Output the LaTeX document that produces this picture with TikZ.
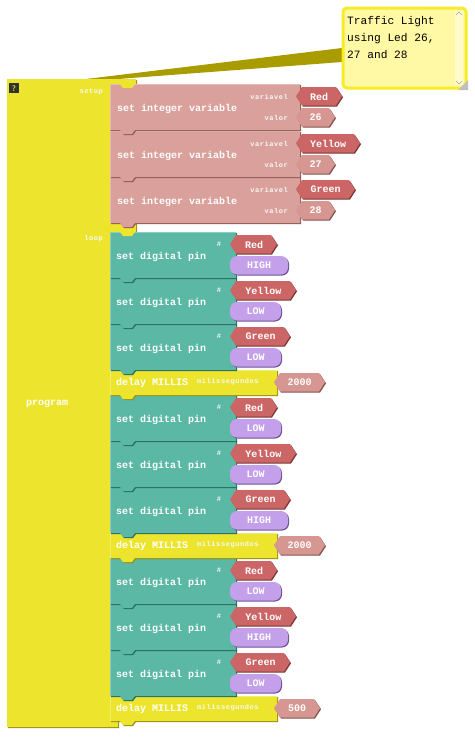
\documentclass[tikz,border=0pt]{standalone}
\usepackage{fontspec}
\newfontfamily\blk{Liberation Mono}[LetterSpace=0]
\newfontfamily\lab{Liberation Mono}[LetterSpace=8]
\newfontfamily\cmt{Liberation Mono}
\definecolor{progY}{RGB}{237,229,45}
\definecolor{progYd}{RGB}{150,140,20}
\definecolor{pinkS}{RGB}{218,160,155}
\definecolor{pinkSd}{RGB}{140,90,85}
\definecolor{varR}{RGB}{204,102,102}
\definecolor{varRd}{RGB}{120,50,50}
\definecolor{numP}{RGB}{214,150,145}
\definecolor{numPd}{RGB}{130,80,75}
\definecolor{tealB}{RGB}{90,184,164}
\definecolor{tealBd}{RGB}{40,105,92}
\definecolor{purp}{RGB}{196,160,234}
\definecolor{purpd}{RGB}{110,80,150}
\definecolor{tailC}{RGB}{168,156,0}
\definecolor{cmtB}{RGB}{246,236,40}
\definecolor{cmtF}{RGB}{255,249,165}
\definecolor{lblC}{RGB}{248,248,248}
\newcommand{\stmtpath}[4]{(#1,#2) -- (#3,#2) -- (#3,#4) -- ({#1+25},#4) -- ({#1+22},{#4+4}) -- ({#1+13},{#4+4}) -- ({#1+10},#4) -- (#1,#4) -- cycle}
\newcommand{\stmt}[6]{%
  \fill[#6,shift={(1,1)}] \stmtpath{#1}{#2}{#3}{#4};
  \fill[#5] \stmtpath{#1}{#2}{#3}{#4};
  \draw[white,opacity=.3,line width=1] (#1+.5,#4) -- (#1+.5,#2+.5) -- (#3,#2+.5);}
\newcommand{\hexpath}[4]{(#1,{(#2+#4)/2}) -- ({#1+6},#2) -- ({#3-6},#2) -- (#3,{(#2+#4)/2}) -- ({#3-6},#4) -- ({#1+6},#4) -- cycle}
\newcommand{\hexv}[6]{%
  \fill[#6,shift={(1,1)}] \hexpath{#1}{#2}{#3}{#4};
  \fill[#5] \hexpath{#1}{#2}{#3}{#4};}
\newcommand{\setblk}[6]{%
  \stmt{110}{#1}{300}{#1+46}{pinkS}{pinkSd}
  \hexv{296}{#1+3}{#4}{#1+21.5}{varR}{varRd}
  \hexv{296}{#1+24}{#6}{#1+42.5}{numP}{numPd}
  \node[main,anchor=west] (#2-t) at (117,#1+25) {set integer variable};
  \node[lbl,anchor=east] (#2-l1) at (288,#1+13) {variavel};
  \node[lbl,anchor=east] (#2-l2) at (288,#1+34) {valor};
  \node[main] (#2-v) at ({(296+#4)/2},#1+12.5) {#3};
  \node[main] (#2-n) at ({(296+#6)/2},#1+33.5) {#5};}
\newcommand{\pinblk}[6]{%
  \stmt{110}{#1}{236}{#1+46}{tealB}{tealBd}
  \hexv{230}{#1+3}{#4}{#1+21.5}{varR}{varRd}
  \fill[purpd,rounded corners=7,shift={(1,1)}] (230,#1+24) rectangle (#6,#1+42.5);
  \fill[purp,rounded corners=7] (230,#1+24) rectangle (#6,#1+42.5);
  \node[lbl] (#2-h) at (219,#1+12) {\#};
  \node[main,anchor=west] (#2-t) at (116,#1+25) {set digital pin};
  \node[main] (#2-v) at ({(231+#4)/2},#1+12.5) {#3};
  \node[main] (#2-s) at ({(230+#6)/2},#1+33.5) {#5};}
\newcommand{\delblk}[4]{%
  \stmt{110}{#1}{277}{#1+25}{progY}{progYd}
  \hexv{274}{#1+3}{#4}{#1+21.5}{numP}{numPd}
  \node[main,anchor=west] (#2-t) at (116,#1+13) {delay MILLIS};
  \node[lbl,anchor=west] (#2-l) at (197,#1+12) {milissegundos};
  \node[main] (#2-v) at ({(274+#4)/2},#1+12.5) {#3};}
\newcommand{\armtab}[1]{\fill[progY] (120,#1-1) -- (120,#1) -- (123,#1+4) -- (132,#1+4) -- (135,#1) -- (135,#1-1) -- cycle;}
\tikzset{
  main/.style={inner sep=0, text=white, font=\blk\bfseries\fontsize{10}{10}\selectfont},
  lbl/.style={inner sep=0, text=lblC, font=\lab\bfseries\fontsize{7}{7}\selectfont},
}
\begin{document}
\begin{tikzpicture}[x=1pt,y=-1pt]
\useasboundingbox (0,0) rectangle (474,739);
% comment tail
\coordinate (tailA) at (342,48);
\coordinate (tailB) at (342,62);
\coordinate (tailC) at (118,79);
\coordinate (tailD) at (86,79);
\fill[tailC] (tailA) -- (tailB) -- (tailC) -- (tailD) -- cycle;
% comment box
\draw[cmtB, line width=3, fill=cmtF, rounded corners=4] (343,8) rectangle (466,88);
\fill[white,opacity=.45] (455,11) rectangle (463,85);
\draw[black!35,line width=.6] (456,15) -- (459,12) -- (462,15);
\draw[black!35,line width=.6] (456,81) -- (459,84) -- (462,81);
\fill[black!25] (468,80) -- (468,90) -- (458,90) -- cycle;
\node[anchor=north west, inner sep=0, align=left, font=\cmt\fontsize{11.2}{17}\selectfont] (comment) at (347,16) {Traffic Light\\using Led 26,\\27 and 28};
% program block
\fill[progYd,shift={(1,1)}] (7,79) -- (136,79) -- (136,84) -- (110,84) -- (110,222) -- (136,222) -- (136,232) -- (110,232) -- (110,721) -- (118,721) -- (118,727) -- (7,727) -- cycle;
\fill[progY] (7,79) -- (136,79) -- (136,84) -- (110,84) -- (110,222) -- (136,222) -- (136,232) -- (110,232) -- (110,721) -- (118,721) -- (118,727) -- (7,727) -- cycle;
\fill[black!80] (9,83) rectangle (19,93);
\node[inner sep=0, text=progY, font=\sffamily\bfseries\fontsize{8}{8}\selectfont] (help) at (14,88.5) {?};
\node[lbl,anchor=east] (setup) at (103,92) {setup};
\node[lbl,anchor=east] (loop) at (103,239) {loop};
\node[main,anchor=west] (program) at (26,404) {program};
% loop blocks, bottom to top
\delblk{696}{d3}{500}{320}
\pinblk{650}{p9}{Green}{290}{LOW}{281}
\pinblk{604}{p8}{Yellow}{296}{HIGH}{288}
\pinblk{558}{p7}{Red}{277}{LOW}{281}
\delblk{533}{d2}{2000}{325}
\pinblk{487}{p6}{Green}{290}{HIGH}{288}
\pinblk{441}{p5}{Yellow}{296}{LOW}{281}
\pinblk{395}{p4}{Red}{277}{LOW}{281}
\delblk{370}{d1}{2000}{325}
\pinblk{324}{p3}{Green}{290}{LOW}{281}
\pinblk{278}{p2}{Yellow}{296}{LOW}{281}
\pinblk{232}{p1}{Red}{277}{HIGH}{288}
% setup blocks
\setblk{177}{s3}{Green}{355}{28}{335}
\setblk{131}{s2}{Yellow}{360}{27}{335}
\setblk{84}{s1}{Red}{342}{26}{335}
\armtab{84}
\armtab{232}
\end{tikzpicture}
\end{document}
